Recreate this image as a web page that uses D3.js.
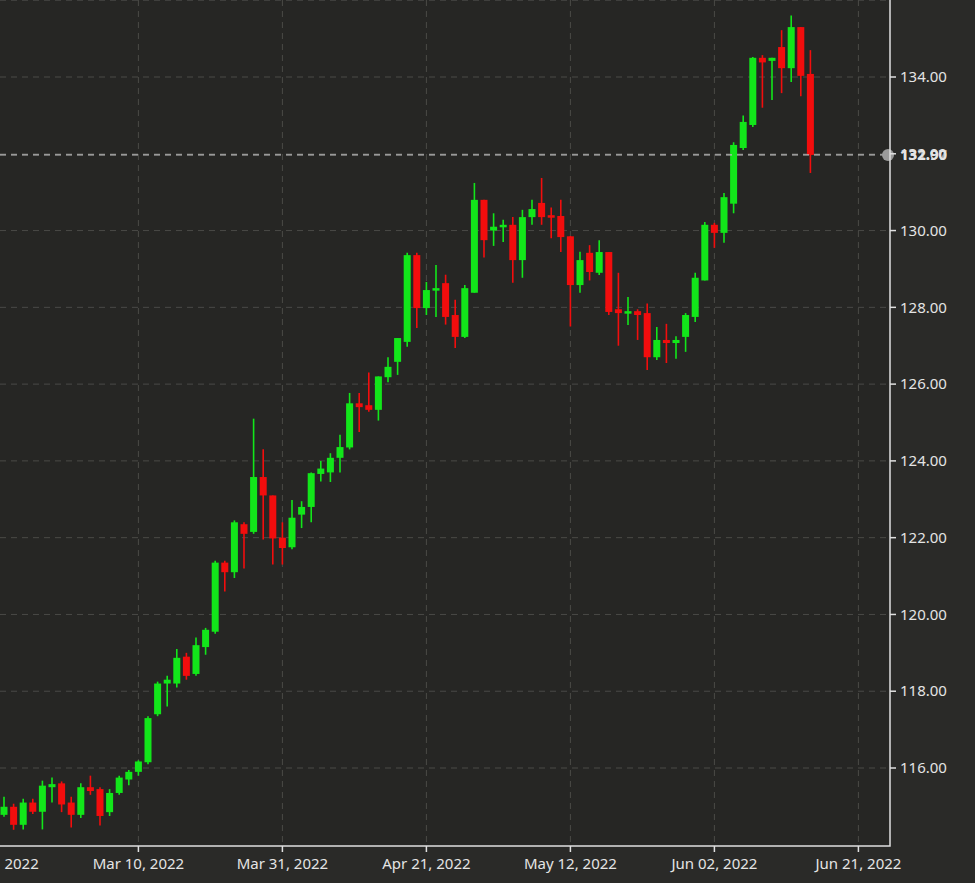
<!DOCTYPE html>
<html>
<head>
<script src="https://d3js.org/d3.v7.min.js"></script>
<style>
  html, body { margin: 0; background: #2a2a28; }
  svg { display: block; }
  .tick-label { font-family: "Noto Sans", sans-serif; font-size: 15px; fill: #e4e4e4; }
</style>
</head>
<body>
<svg width="975" height="883"></svg>
<script>
// trading-day index -> [open, high, low, close], starting Feb 18 2022
const opens  = [114.78,114.99,114.52,115.1,114.86,115.5,115.6,115.1,114.78,115.5,115.45,114.85,115.35,115.7,115.9,116.15,117.4,118.2,118.2,118.9,118.45,119.15,119.55,121.35,121.1,122.35,122.15,123.58,123.1,122.0,121.75,122.6,122.8,123.66,123.7,124.08,124.35,125.5,125.45,125.33,126.18,126.58,127.1,129.36,127.98,128.45,128.63,127.8,127.23,128.38,130.8,130.0,130.1,130.15,129.23,130.35,130.72,130.4,130.38,129.85,128.58,129.42,128.9,129.44,127.95,127.85,127.9,127.85,126.7,127.15,127.07,127.23,127.75,128.7,130.15,129.94,130.7,132.15,132.75,134.5,134.42,134.78,134.23,135.3,134.08];
const highs  = [115.25,115.07,115.2,115.2,115.67,115.75,115.65,115.25,115.6,115.8,115.5,115.45,115.8,115.95,116.2,117.35,118.25,118.4,119.1,119.0,119.4,119.65,121.4,121.4,122.45,122.4,125.1,124.3,123.1,122.4,122.98,122.95,123.7,124.0,124.2,124.68,125.77,125.77,126.3,126.2,126.7,127.2,129.42,129.42,128.66,129.1,128.85,128.2,128.58,131.24,130.8,130.45,130.28,130.35,130.54,130.8,131.37,130.6,130.8,129.86,129.45,129.62,129.75,129.44,128.9,128.27,127.95,128.1,127.49,127.57,127.25,127.85,128.9,130.22,130.2,130.98,132.3,133.0,134.52,134.57,134.5,135.22,135.6,135.3,134.7];
const lows   = [114.73,114.39,114.4,114.8,114.4,115.1,114.85,114.45,114.7,115.3,114.5,114.75,115.3,115.55,115.8,116.1,117.35,117.6,118.1,118.3,118.4,118.95,119.5,120.6,120.95,121.2,122.1,121.95,121.3,121.3,121.7,122.25,122.4,123.46,123.45,123.7,124.3,124.75,125.28,125.05,126.05,126.24,126.97,127.46,127.8,127.75,127.55,126.94,127.2,128.38,129.3,129.6,129.7,128.64,128.77,130.15,130.15,129.8,129.44,127.5,128.38,128.7,128.84,127.8,127.0,127.54,127.15,126.37,126.63,126.55,126.66,126.84,127.62,128.7,129.55,129.68,130.45,132.1,132.7,133.2,133.4,133.58,133.87,133.5,131.5];
const closes = [114.99,114.52,115.1,114.86,115.54,115.58,115.05,114.78,115.5,115.4,114.75,115.35,115.75,115.9,116.17,117.3,118.2,118.3,118.87,118.4,119.2,119.6,121.35,121.1,122.4,122.1,123.58,123.1,121.98,121.73,122.52,122.8,123.68,123.8,124.08,124.36,125.5,125.4,125.33,126.2,126.45,127.2,129.36,127.98,128.45,128.5,127.75,127.23,128.5,130.8,129.75,130.1,130.15,129.23,130.35,130.56,130.35,130.34,129.83,128.58,129.23,128.92,129.44,127.88,127.85,127.9,127.8,126.7,127.15,127.07,127.15,127.8,128.77,130.15,129.94,130.87,132.23,132.83,134.5,134.38,134.5,134.23,135.3,134.03,131.97];
const dateTicks = [[-1, "Feb 17, 2022"], [14, "Mar 10, 2022"], [29, "Mar 31, 2022"], [44, "Apr 21, 2022"], [59, "May 12, 2022"], [74, "Jun 02, 2022"], [89, "Jun 21, 2022"]];
const priceTicks = [116, 118, 120, 122, 124, 126, 128, 130, 132, 134, 136];
const lastPrice = 131.97;

const svg = d3.select('svg');
const plotRight = 890, plotBottom = 846;
const x = d3.scaleLinear().domain([0, 1]).range([4, 13.6]);
const y = d3.scaleLinear().domain([116, 134]).range([768, 77]);
const up = '#12e61a', down = '#f20d0d';

svg.append('rect').attr('width', plotRight).attr('height', plotBottom).attr('fill', '#262624');

// grid
svg.append('g').selectAll('line').data(priceTicks).join('line')
  .attr('x1', 0).attr('x2', plotRight).attr('y1', d => y(d)).attr('y2', d => y(d))
  .attr('stroke', '#4a4a47').attr('stroke-dasharray', '6,5');
svg.append('g').selectAll('line').data(dateTicks).join('line')
  .attr('x1', d => x(d[0])).attr('x2', d => x(d[0])).attr('y1', 0).attr('y2', plotBottom)
  .attr('stroke', '#4a4a47').attr('stroke-dasharray', '6,5');

// candles
const candles = svg.append('g').selectAll('g').data(opens.map((o, i) => ({i, o, h: highs[i], l: lows[i], c: closes[i]})))
  .join('g');
candles.append('line')
  .attr('x1', d => x(d.i)).attr('x2', d => x(d.i))
  .attr('y1', d => y(d.h)).attr('y2', d => y(d.l))
  .attr('stroke', d => d.c >= d.o ? up : down).attr('stroke-width', 1.6);
candles.append('rect')
  .attr('x', d => x(d.i) - 3.5).attr('width', 7)
  .attr('y', d => y(Math.max(d.o, d.c)))
  .attr('height', d => Math.max(2.5, Math.abs(y(d.o) - y(d.c))))
  .attr('fill', d => d.c >= d.o ? up : down);

// last price line
svg.append('line').attr('x1', 0).attr('x2', plotRight).attr('y1', y(lastPrice)).attr('y2', y(lastPrice))
  .attr('stroke', '#bdbdbd').attr('stroke-dasharray', '6,5').attr('stroke-width', 1.3);
svg.append('circle').attr('cx', plotRight - 2).attr('cy', y(lastPrice)).attr('r', 6).attr('fill', '#9a9a9a');

// axes frame
svg.append('path').attr('d', `M${plotRight},0V${plotBottom}H0`).attr('fill', 'none').attr('stroke', '#e0e0e0').attr('stroke-width', 1.5);

const yt = svg.append('g').selectAll('g').data(priceTicks.filter(d => d <= 134)).join('g')
  .attr('transform', d => `translate(${plotRight},${y(d)})`);
yt.append('line').attr('x2', 6).attr('stroke', '#e0e0e0').attr('stroke-width', 1.5);
yt.append('text').attr('class', 'tick-label').attr('x', 10).attr('dy', '0.35em').text(d => d3.format('.2f')(d));

svg.append('text').attr('class', 'tick-label').attr('x', plotRight + 10).attr('y', y(lastPrice)).attr('dy', '0.35em')
  .attr('font-weight', 'bold').text('132.90');
svg.append('text').attr('class', 'tick-label').attr('x', plotRight + 10).attr('y', y(lastPrice)).attr('dy', '0.35em')
  .attr('font-weight', 'bold').attr('fill-opacity', 0.7).text(lastPrice.toFixed(2));

const xt = svg.append('g').selectAll('g').data(dateTicks).join('g')
  .attr('transform', d => `translate(${x(d[0])},${plotBottom})`);
xt.append('line').attr('y2', 6).attr('stroke', '#e0e0e0').attr('stroke-width', 1.5);
xt.append('text').attr('class', 'tick-label').attr('y', 23).attr('text-anchor', 'middle').text(d => d[1]);
</script>
</body>
</html>
